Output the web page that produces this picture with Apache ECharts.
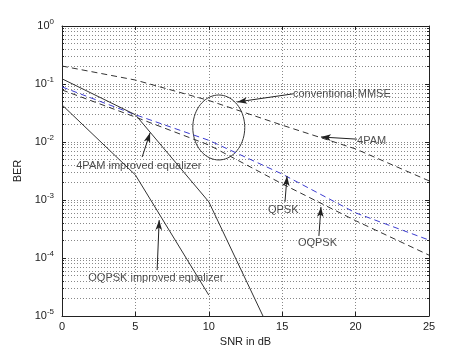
<!DOCTYPE html>
<html><head><meta charset="utf-8">
<script src="https://cdn.jsdelivr.net/npm/echarts@6/dist/echarts.min.js"></script>
<style>html,body{margin:0;padding:0;background:#fff}#c{width:474px;height:355px}</style>
</head><body><div id="c"></div>
<script>
// SNR values (dB)
const snrFull = [0, 5, 10, 15, 20, 25];
const snrImp = [0, 5, 10, 15];
// BER series
const conv4PAM = [0.204, 0.117, 0.052, 0.0195, 0.0076, 0.00214];
const convQPSK = [0.089, 0.0295, 0.0107, 0.0028, 0.0006, 0.000204];
const convOQPSK = [0.079, 0.0269, 0.0089, 0.0019, 0.00044, 0.000112];
const imp4PAM = [0.123, 0.0295, 0.00093, 0.0000020];
const impOQPSK = [0.0437, 0.0027, 0.0000229];
const impOQPSKsnr = [0, 5, 10];
const xTicks = [0, 5, 10, 15, 20, 25];
// annotation texts and anchors [snr, BER]
const annTexts = ['conventional MMSE', '4PAM', '4PAM improved equalizer', 'OQPSK improved equalizer', 'QPSK', 'OQPSK'];
const annTextPos = [[15.73, 0.0676], [20.1, 0.0105], [0.97, 0.0039], [1.79, 0.0000457], [14.03, 0.00067], [16.07, 0.000182]];
const arrowTail = [[15.73, 0.0676], [20.09, 0.0112], [5.46, 0.0055], [6.48, 0.000062], [15.19, 0.00093], [17.5, 0.00024]];
const arrowTip = [[11.93, 0.049], [17.64, 0.0122], [6.0, 0.0144], [6.62, 0.00045], [15.33, 0.0026], [17.64, 0.00076]];
// ellipse: center [snr, BER], radii [dB, decades]
const ellipseCenter = [10.68, 0.0178];
const ellipseRadii = [1.77, 0.56];

const zip = (xs, ys) => xs.map((x, i) => [x, ys[i]]);
const FONT = 'Liberation Sans';
const ink = '#222';
const minorVals = [];
for (let e = -5; e < 0; e++) for (let m = 2; m <= 9; m++) minorVals.push(m * Math.pow(10, e));

const chart = echarts.init(document.getElementById('c'));
const axisCommon = {
  axisLine: { show: true, onZero: false, lineStyle: { color: ink, width: 1 } },
  axisTick: { show: true, inside: true, length: 4, lineStyle: { color: ink } },
};
chart.setOption({
  animation: false,
  textStyle: { fontFamily: FONT },
  grid: { left: 62, right: 45, top: 26, bottom: 39 },
  xAxis: [
    Object.assign({}, axisCommon, {
      type: 'value', min: 0, max: 25, interval: 5, position: 'bottom',
      name: 'SNR in dB', nameLocation: 'middle', nameGap: 17,
      nameTextStyle: { fontFamily: FONT, fontSize: 11, color: ink },
      axisLabel: { fontFamily: FONT, fontSize: 11, color: ink, margin: 5 },
      splitLine: { show: true, lineStyle: { type: [1, 2], color: '#888', width: 1 } }
    }),
    Object.assign({}, axisCommon, {
      type: 'value', min: 0, max: 25, interval: 5, position: 'top',
      axisLabel: { show: false }, splitLine: { show: false }
    })
  ],
  yAxis: [
    Object.assign({}, axisCommon, {
      type: 'log', logBase: 10, min: 1e-5, max: 1, position: 'left',
      name: 'BER', nameLocation: 'middle', nameGap: 38, nameRotate: 90,
      nameTextStyle: { fontFamily: FONT, fontSize: 11, color: ink },
      minorTick: { show: true, splitNumber: 9, length: 2, lineStyle: { color: ink } },
      minorSplitLine: { show: true, lineStyle: { type: [1, 2], color: '#888' } },
      splitLine: { show: true, lineStyle: { type: [1, 2], color: '#888' } },
      axisLabel: {
        margin: 8,
        formatter: v => '{b|10}{s|' + Math.round(Math.log10(v)) + '}',
        rich: {
          b: { fontFamily: FONT, fontSize: 11, color: ink },
          s: { fontFamily: FONT, fontSize: 8, color: ink, padding: [0, 0, 8, 0] }
        }
      }
    }),
    Object.assign({}, axisCommon, {
      type: 'log', logBase: 10, min: 1e-5, max: 1, position: 'right',
      minorTick: { show: true, splitNumber: 9, length: 2, lineStyle: { color: ink } },
      axisLabel: { show: false }, splitLine: { show: false }
    })
  ],
  series: [
    { type: 'line', data: zip(snrFull, conv4PAM), symbol: 'none', lineStyle: { color: '#333', width: 1, type: [6, 4] } },
    { type: 'line', data: zip(snrFull, convQPSK), symbol: 'none', lineStyle: { color: '#3b3bd0', width: 1, type: [6, 4] } },
    { type: 'line', data: zip(snrFull, convOQPSK), symbol: 'none', lineStyle: { color: '#333', width: 1, type: [6, 4] } },
    { type: 'line', data: zip(snrImp, imp4PAM), symbol: 'none', clip: true, lineStyle: { color: '#333', width: 1 } },
    { type: 'line', data: zip(impOQPSKsnr, impOQPSK), symbol: 'none', clip: true, lineStyle: { color: '#333', width: 1 } },
    {
      type: 'custom', coordinateSystem: 'cartesian2d', data: [ellipseCenter], silent: true,
      renderItem: (params, api) => {
        const pts = [];
        const cl = Math.log10(ellipseCenter[1]);
        for (let i = 0; i < 72; i++) {
          const t = i / 72 * Math.PI * 2;
          pts.push(api.coord([ellipseCenter[0] + ellipseRadii[0] * Math.cos(t),
                              Math.pow(10, cl + ellipseRadii[1] * Math.sin(t))]));
        }
        return { type: 'polygon', shape: { points: pts }, style: { fill: 'none', stroke: '#333', lineWidth: 1 } };
      }
    },
    {
      type: 'scatter', symbolSize: 0, silent: true,
      data: annTextPos.map((p, i) => ({ value: p, name: annTexts[i] })),
      label: { show: true, position: 'right', distance: 0, formatter: p => p.name,
               fontFamily: FONT, fontSize: 11, color: ink },
      markLine: {
        silent: true, symbol: ['none', 'arrow'], symbolSize: [5, 10],
        lineStyle: { color: ink, width: 1, type: 'solid' }, label: { show: false },
        data: arrowTail.map((t, i) => [{ coord: t }, { coord: arrowTip[i] }])
      }
    }
  ]
});
</script></body></html>
